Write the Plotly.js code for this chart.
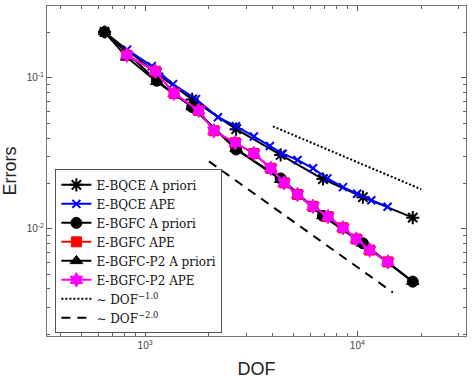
<!DOCTYPE html>
<html>
<head>
<meta charset="utf-8">
<script src="https://cdn.plot.ly/plotly-3.0.1.min.js"></script>
<style>html,body{margin:0;padding:0;background:#fff;}#chart{width:474px;height:382px;}</style>
</head>
<body>
<div id="chart"></div>
<script>
// ---- data ----
var dofPriori      = [644, 1135, 1666, 2685, 4353, 6887, 10620, 18240];
var dofPrioriP2    = [644, 820, 1135, 1666, 2685, 4353, 6887, 10620, 18240];
var errBQCEPriori  = [0.2018, 0.107, 0.0721, 0.0458, 0.0309, 0.0214, 0.01622, 0.01187];
var errBGFCPriori  = [0.2018, 0.0959, 0.0642, 0.0336, 0.0216, 0.0122, 0.00803, 0.00447];
var errP2Priori    = [0.2018, 0.137, 0.0944, 0.0642, 0.0339, 0.0212, 0.0122, 0.0080, 0.00447];

var dofBQCEAPE = [823, 1075, 1354, 1737, 2204, 2679, 3254, 3870, 4442, 5224, 6183, 7227, 8559, 9979, 11637, 13883];
var errBQCEAPE = [0.1542, 0.1198, 0.0911, 0.0724, 0.0550, 0.0479, 0.0410, 0.0354, 0.0315, 0.0286, 0.0252, 0.0216, 0.0189, 0.0171, 0.01548, 0.01403];

var dofBGFCAPE = [820, 1118, 1369, 1788, 2111, 2658, 3254, 3912, 4518, 5224, 6183, 7274, 8559, 9892, 11424, 13928];
var errBGFCAPE = [0.1416, 0.1108, 0.0791, 0.0610, 0.0447, 0.0372, 0.0316, 0.0252, 0.0202, 0.0169, 0.0141, 0.01206, 0.01016, 0.00856, 0.00724, 0.00604];
var dofP2APE   = [820, 1118, 1369, 1788, 2111, 2658, 3254, 3912, 4518, 5224, 6183, 7274, 8559, 9892, 11424, 13928];
var errP2APE   = [0.1416, 0.1108, 0.0791, 0.0610, 0.0447, 0.0372, 0.0316, 0.0252, 0.0202, 0.0169, 0.0141, 0.01206, 0.01016, 0.00856, 0.00724, 0.00604];

var dofRate1 = [4000, 20000];
var errRate1 = [0.0478, 0.0183];
var dofRate2 = [2000, 14700];
var errRate2 = [0.0280, 0.00379];

var seriesNames = ['E-BQCE A priori', 'E-BQCE APE', 'E-BGFC A priori', 'E-BGFC APE',
                   'E-BGFC-P2 A priori', 'E-BGFC-P2 APE', '\u223C DOF<sup>\u22121.0</sup>', '\u223C DOF<sup>\u22122.0</sup>'];

var xTickVals = [1000, 10000];
var xTickText = ['10<sup>3</sup>', '10<sup>4</sup>'];
var xMinor = [400, 500, 600, 700, 800, 900, 2000, 3000, 4000, 5000, 6000, 7000, 8000, 9000, 20000, 30000];
var yTickVals = [0.01, 0.1];
var yTickText = ['10<sup>-2</sup>', '10<sup>-1</sup>'];
var yMinor = [0.002, 0.003, 0.004, 0.005, 0.006, 0.007, 0.008, 0.009, 0.02, 0.03, 0.04, 0.05, 0.06, 0.07, 0.08, 0.09, 0.2, 0.3];

// ---- traces ----
var LW = 2;
var traces = [
  {x: dofPriori, y: errBQCEPriori, name: seriesNames[0], mode: 'lines+markers',
   line: {color: '#000', width: LW},
   marker: {symbol: 'asterisk-open', size: 11, color: '#000', line: {color: '#000', width: 2}}},
  {x: dofBQCEAPE, y: errBQCEAPE, name: seriesNames[1], mode: 'lines+markers',
   line: {color: '#0000ff', width: LW},
   marker: {symbol: 'x-thin-open', size: 8, color: '#0000ff', line: {color: '#0000ff', width: 2}}},
  {x: dofPriori, y: errBGFCPriori, name: seriesNames[2], mode: 'lines+markers',
   line: {color: '#000', width: LW},
   marker: {symbol: 'circle', size: 11, color: '#000', line: {color: '#000', width: 1}}},
  {x: dofBGFCAPE, y: errBGFCAPE, name: seriesNames[3], mode: 'lines+markers',
   line: {color: '#ff0000', width: LW},
   marker: {symbol: 'square', size: 10, color: '#ff0000', line: {color: '#ff0000', width: 1}}},
  {x: dofPrioriP2, y: errP2Priori, name: seriesNames[4], mode: 'lines+markers',
   line: {color: '#000', width: LW},
   marker: {symbol: 'triangle-up', size: 11, color: '#000', line: {color: '#000', width: 1}}},
  {x: dofP2APE, y: errP2APE, name: seriesNames[5], mode: 'lines+markers',
   line: {color: '#ff00ff', width: LW},
   marker: {symbol: 'hexagram', size: 11, color: '#ff00ff', line: {color: '#ff00ff', width: 1}}},
  {x: dofRate1, y: errRate1, name: seriesNames[6], mode: 'lines',
   line: {color: '#000', width: 2, dash: '2px,2px'}},
  {x: dofRate2, y: errRate2, name: seriesNames[7], mode: 'lines',
   line: {color: '#000', width: 2, dash: '9px,7px'}}
];

var axisCommon = {
  type: 'log', showline: true, linecolor: '#777', linewidth: 1, mirror: 'ticks',
  ticks: 'inside', ticklen: 5, tickcolor: '#555', tickwidth: 1,
  showgrid: false, zeroline: false, tickmode: 'array',
  tickfont: {family: 'Liberation Sans, Arial, sans-serif', size: 10, color: '#444'},
  minor: {ticks: 'inside', ticklen: 3, tickcolor: '#666', tickwidth: 1, tickmode: 'array', showgrid: false}
};

var xaxis = Object.assign({}, axisCommon, {
  range: [Math.log10(345), Math.log10(32500)],
  tickvals: xTickVals, ticktext: xTickText,
  title: {text: 'DOF', font: {family: 'Liberation Sans, Arial, sans-serif', size: 18, color: '#222'}, standoff: 12}
});
xaxis.minor = Object.assign({}, axisCommon.minor, {tickvals: xMinor});

var yaxis = Object.assign({}, axisCommon, {
  range: [Math.log10(0.00195), Math.log10(0.3)],
  tickvals: yTickVals, ticktext: yTickText,
  title: {text: 'Errors', font: {family: 'Liberation Sans, Arial, sans-serif', size: 18, color: '#222'}, standoff: 10}
});
yaxis.minor = Object.assign({}, axisCommon.minor, {tickvals: yMinor});

var layout = {
  width: 474, height: 382,
  margin: {l: 47, r: 8, t: 6, b: 46},
  paper_bgcolor: '#fff', plot_bgcolor: '#fff',
  xaxis: xaxis, yaxis: yaxis,
  showlegend: true,
  legend: {x: 0.02, y: 0.008, xanchor: 'left', yanchor: 'bottom',
           bgcolor: '#fff', bordercolor: '#555', borderwidth: 1,
           font: {family: 'DejaVu Serif, Liberation Serif, serif', size: 12, color: '#111'},
           itemwidth: 30, tracegroupgap: 0}
};

Plotly.newPlot('chart', traces, layout, {displayModeBar: false, staticPlot: true});
</script>
</body>
</html>
